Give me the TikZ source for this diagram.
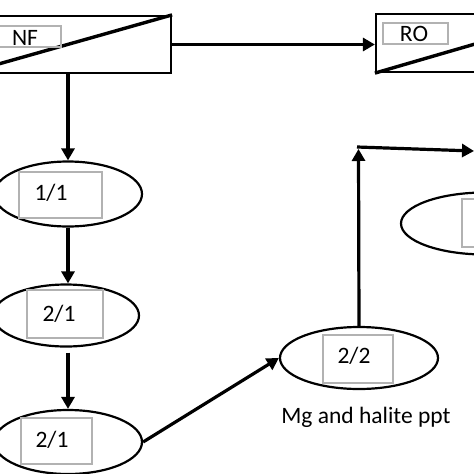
\documentclass[tikz,border=0pt]{standalone}
\usepackage{fontspec}
\setmainfont{Carlito}
\usetikzlibrary{shapes.geometric,arrows.meta}
\begin{document}
\begin{tikzpicture}[x=1pt,y=-1pt,
  unit/.style={draw,line width=2.2pt,rectangle,inner sep=0pt},
  stage/.style={draw,line width=2.2pt,ellipse,inner sep=0pt},
  tag/.style={draw=black!30,line width=1.5pt,rectangle,inner sep=0pt},
  lbl/.style={inner sep=0pt,font=\fontsize{23.5}{27}\selectfont},
  flow/.style={line width=3.2pt,-{Triangle[length=12pt,width=13pt]}},
  diag/.style={line width=3.4pt}]
\useasboundingbox (0,0) rectangle (474,474);
\clip (0,0) rectangle (474,474);
\fill[white] (0,0) rectangle (474,474);
% membrane units
\node[unit,minimum width=207pt,minimum height=57pt] (nf) at (67.5,44.5) {};
\draw[diag] (nf.south west) -- (nf.north east);
\node[tag,minimum width=72pt,minimum height=21pt] (nftag) at (25,36.5) {};
\node[lbl] (nftxt) at (25,38) {NF};
\node[unit,minimum width=205pt,minimum height=58pt] (ro) at (478.5,43) {};
\draw[diag] (ro.south west) -- (ro.north east);
\node[tag,minimum width=65pt,minimum height=21pt] (rotag) at (415.5,33.5) {};
\node[lbl] (rotxt) at (414,34) {RO};
% stages
\node[stage,minimum width=148pt,minimum height=65pt] (s11) at (68,194) {};
\node[tag,minimum width=83pt,minimum height=46pt] (s11tag) at (60.5,195) {};
\node[lbl] (s11txt) at (51,193) {1/1};
\node[stage,minimum width=146pt,minimum height=62pt] (s21a) at (66,315.5) {};
\node[tag,minimum width=76pt,minimum height=48pt] (s21atag) at (65,314) {};
\node[lbl] (s21atxt) at (59,314) {2/1};
\node[stage,minimum width=148pt,minimum height=64pt] (s21b) at (68,442) {};
\node[tag,minimum width=71pt,minimum height=46pt] (s21btag) at (56.5,441) {};
\node[lbl] (s21btxt) at (52,440) {2/1};
\node[stage,minimum width=158pt,minimum height=62pt] (s22) at (359,358) {};
\node[tag,minimum width=70pt,minimum height=48pt] (s22tag) at (358,359) {};
\node[lbl] (s22txt) at (354,356) {2/2};
\node[lbl] (cap) at (366,417) {Mg and halite ppt};
\node[stage,minimum width=168pt,minimum height=62pt] (s3) at (485,223.5) {};
\node[tag,minimum width=70pt,minimum height=48pt] (s3tag) at (497,223) {};
% connectors
\coordinate (corner) at (358.5,149);
\coordinate (out) at (474,151);
\draw[flow] (nf.east) -- (nf.east -| ro.west);
\draw[flow] (nf.south -| s11.north) -- (s11.north);
\draw[flow] (s11.south) -- (s21a.north -| s11.south);
\draw[flow] ([yshift=-5pt]s21a.south -| s21b.north) -- (s21b.north);
\draw[flow] (s21b.east) -- (s22.west);
\draw[flow] (s22.north) -- (corner);
\draw[flow] ([xshift=-1.5pt,yshift=2pt]corner) -- (out);
\end{tikzpicture}
\end{document}
